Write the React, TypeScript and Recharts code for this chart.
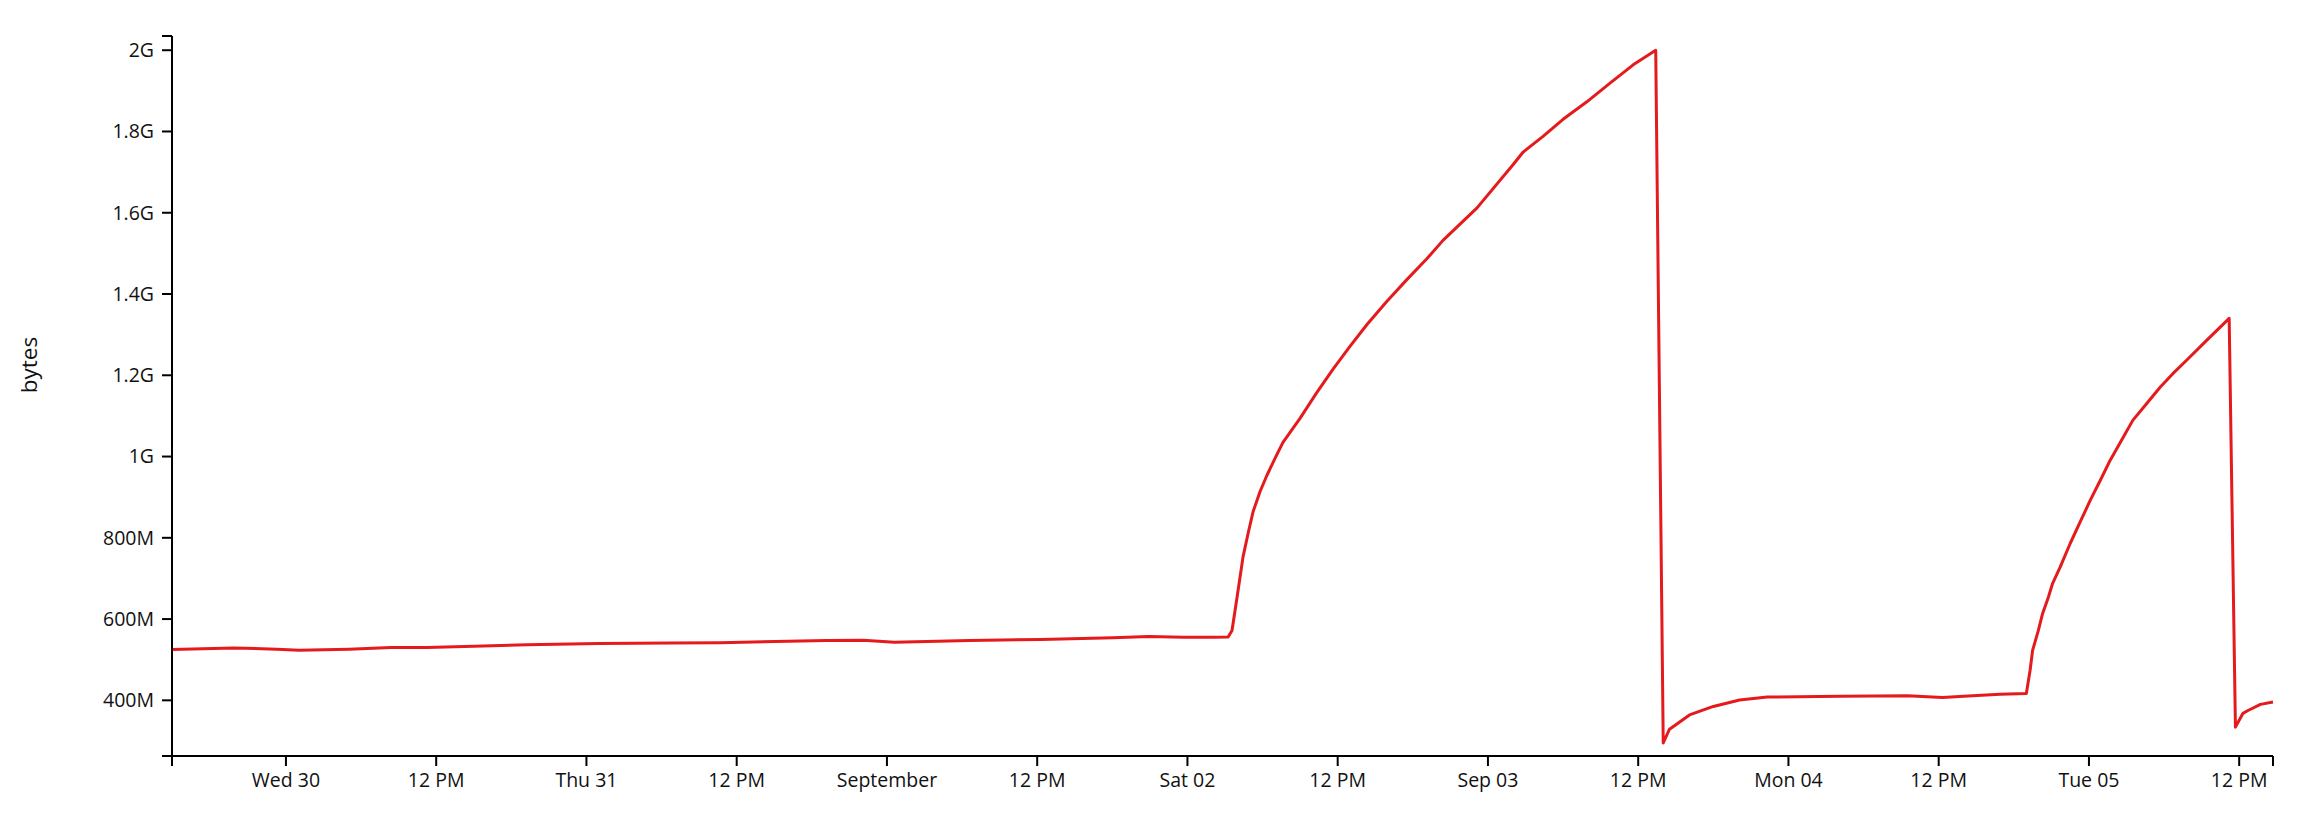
import { LineChart, Line, XAxis, YAxis, Label } from "recharts"

// hours since Wed Aug 30 00:00
const hours = [
  -9.1, -4.15, -0.72, 1.04, 5.03, 8.39, 11.26, 15.0, 19.25, 25.0, 30.7, 34.7, 43.2, 46.1, 48.6, 54.6,
  60.3, 66.05, 68.9, 71.7, 74.0, 75.25,
  75.56, 75.96, 76.2, 76.44, 76.86, 77.24, 77.8, 78.35, 79.13, 79.63, 80.99, 82.3, 83.63, 84.98,
  86.34, 87.9, 89.54, 91.1, 92.41, 95.13, 98.0, 98.8, 100.4, 102.0, 103.9, 105.75, 107.6, 109.4,
  110.0, 110.5, 112.1, 114.0, 116.1, 118.3, 124.1, 129.5, 132.3, 134.7, 136.9, 139.0,
  139.3, 139.5, 139.96, 140.3, 140.76, 141.1, 141.7, 142.5, 143.3, 144.1, 144.9, 145.7, 146.75,
  147.5, 148.6, 149.7, 150.7, 151.8, 153.4, 155.2,
  155.7, 156.3, 156.7, 157.7, 158.7,
]

// memory in MB
const memory = [
  525, 529, 526, 523, 526, 530, 530, 533, 537, 540, 541, 542, 547, 548, 543, 547,
  550, 554, 557, 555, 555, 556,
  572, 653, 703, 753, 813, 864, 914, 954, 1004, 1035, 1094, 1156, 1215, 1271,
  1325, 1381, 1436, 1486, 1532, 1612, 1718, 1749, 1788, 1830, 1873, 1919, 1964, 2000,
  295, 329, 364, 385, 401, 408, 410, 411, 407, 411, 415, 417,
  474, 523, 572, 614, 654, 688, 728, 786, 839, 892, 941, 991, 1048,
  1089, 1130, 1171, 1204, 1237, 1286, 1340,
  334, 368, 375, 390, 396,
]

const xTicks = [-9.1, 0, 12, 24, 36, 48, 60, 72, 84, 96, 108, 120, 132, 144, 156, 158.7]
const xTickLabels = [
  "", "Wed 30", "12 PM", "Thu 31", "12 PM", "September", "12 PM", "Sat 02", "12 PM",
  "Sep 03", "12 PM", "Mon 04", "12 PM", "Tue 05", "12 PM", "",
]

const yTicks = [263, 400, 600, 800, 1000, 1200, 1400, 1600, 1800, 2000, 2035]
const yTickLabels = ["", "400M", "600M", "800M", "1G", "1.2G", "1.4G", "1.6G", "1.8G", "2G", ""]

const data = hours.map((t, i) => ({ t, v: memory[i] }))

const font = "'Open Sans', 'Noto Sans', sans-serif"
const tickStyle = { fontSize: 19.5, fill: "#111", fontFamily: font }
const axisStroke = { stroke: "#000", strokeWidth: 2 }

export default function App() {
  return (
    <div style={{ width: 2304, height: 809 }}>
      <LineChart width={2304} height={809} data={data} margin={{ top: 28, right: 39, left: 64, bottom: 21 }}>
        <XAxis
          dataKey="t"
          type="number"
          domain={[-9.1, 158.7]}
          ticks={xTicks}
          interval={0}
          tickFormatter={(v) => xTickLabels[xTicks.indexOf(v)] ?? ""}
          tick={tickStyle}
          tickSize={10}
          tickMargin={7}
          height={40}
          axisLine={axisStroke}
          tickLine={axisStroke}
        />
        <YAxis
          type="number"
          domain={[263, 2035]}
          ticks={yTicks}
          interval={0}
          tickFormatter={(v) => yTickLabels[yTicks.indexOf(v)] ?? ""}
          tick={tickStyle}
          tickSize={10}
          tickMargin={8}
          width={100}
          axisLine={axisStroke}
          tickLine={axisStroke}
        >
          <Label
            content={() => (
              <text
                x={20}
                y={357}
                transform="rotate(-90 20 357)"
                textAnchor="middle"
                dominantBaseline="central"
                style={{ fontSize: 22.5, fill: "#111", fontFamily: font }}
              >
                bytes
              </text>
            )}
          />
        </YAxis>
        <Line
          type="linear"
          dataKey="v"
          stroke="#e41a1c"
          strokeWidth={3}
          strokeLinejoin="round"
          dot={false}
          isAnimationActive={false}
        />
      </LineChart>
    </div>
  )
}
